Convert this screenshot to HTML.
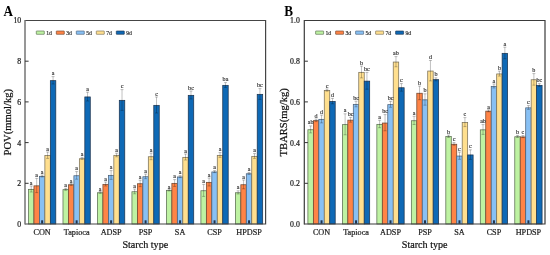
<!DOCTYPE html>
<html><head><meta charset="utf-8">
<style>
html,body{margin:0;padding:0;background:#fff;width:550px;height:255px;overflow:hidden}
svg{display:block;filter:blur(0.4px)}
text{font-family:"Liberation Serif",serif;stroke-width:0.22px}
.tick{font-size:7.8px;fill:#222;stroke:#222;text-anchor:end}
.xl{font-size:8.2px;fill:#222;stroke:#222;text-anchor:middle}
.xt{font-size:10.5px;fill:#111;stroke:#111;text-anchor:middle}
.yt{font-size:10.6px;fill:#111;stroke:#111;text-anchor:middle}
.leg{font-size:7px;fill:#333;stroke:#333}
.let{font-size:6.8px;fill:#333;stroke:#333;stroke-width:0.16px;text-anchor:middle}
.pl{font-size:13.8px;font-weight:bold;fill:#000}
</style></head><body>
<svg width="550" height="255" viewBox="0 0 550 255">
<rect width="550" height="255" fill="#fff"/>
<rect x="28.50" y="189.35" width="5.46" height="34.65" fill="#bef2a2" stroke="#5a6e50" stroke-width="0.75"/>
<rect x="33.96" y="185.85" width="5.46" height="38.15" fill="#ff8446" stroke="#704630" stroke-width="0.75"/>
<rect x="39.42" y="176.35" width="5.46" height="47.65" fill="#88c0f4" stroke="#4a6078" stroke-width="0.75"/>
<rect x="41.15" y="220.3" width="2" height="3.4" fill="#22344c"/>
<rect x="44.88" y="155.55" width="5.46" height="68.45" fill="#ffdf8e" stroke="#7a7058" stroke-width="0.75"/>
<rect x="50.34" y="80.65" width="5.46" height="143.35" fill="#0e69b6" stroke="#1d3550" stroke-width="0.75"/>
<rect x="62.98" y="189.65" width="5.46" height="34.35" fill="#bef2a2" stroke="#5a6e50" stroke-width="0.75"/>
<rect x="68.44" y="184.75" width="5.46" height="39.25" fill="#ff8446" stroke="#704630" stroke-width="0.75"/>
<rect x="73.90" y="175.75" width="5.46" height="48.25" fill="#88c0f4" stroke="#4a6078" stroke-width="0.75"/>
<rect x="75.63" y="220.3" width="2" height="3.4" fill="#22344c"/>
<rect x="79.36" y="158.75" width="5.46" height="65.25" fill="#ffdf8e" stroke="#7a7058" stroke-width="0.75"/>
<rect x="84.82" y="96.95" width="5.46" height="127.05" fill="#0e69b6" stroke="#1d3550" stroke-width="0.75"/>
<rect x="97.46" y="192.75" width="5.46" height="31.25" fill="#bef2a2" stroke="#5a6e50" stroke-width="0.75"/>
<rect x="102.92" y="184.35" width="5.46" height="39.65" fill="#ff8446" stroke="#704630" stroke-width="0.75"/>
<rect x="108.38" y="175.35" width="5.46" height="48.65" fill="#88c0f4" stroke="#4a6078" stroke-width="0.75"/>
<rect x="110.11" y="220.3" width="2" height="3.4" fill="#22344c"/>
<rect x="113.84" y="155.35" width="5.46" height="68.65" fill="#ffdf8e" stroke="#7a7058" stroke-width="0.75"/>
<rect x="119.30" y="100.35" width="5.46" height="123.65" fill="#0e69b6" stroke="#1d3550" stroke-width="0.75"/>
<rect x="131.94" y="191.75" width="5.46" height="32.25" fill="#bef2a2" stroke="#5a6e50" stroke-width="0.75"/>
<rect x="137.40" y="183.75" width="5.46" height="40.25" fill="#ff8446" stroke="#704630" stroke-width="0.75"/>
<rect x="142.86" y="176.75" width="5.46" height="47.25" fill="#88c0f4" stroke="#4a6078" stroke-width="0.75"/>
<rect x="144.59" y="220.3" width="2" height="3.4" fill="#22344c"/>
<rect x="148.32" y="156.75" width="5.46" height="67.25" fill="#ffdf8e" stroke="#7a7058" stroke-width="0.75"/>
<rect x="153.78" y="105.35" width="5.46" height="118.65" fill="#0e69b6" stroke="#1d3550" stroke-width="0.75"/>
<rect x="166.42" y="190.35" width="5.46" height="33.65" fill="#bef2a2" stroke="#5a6e50" stroke-width="0.75"/>
<rect x="171.88" y="183.35" width="5.46" height="40.65" fill="#ff8446" stroke="#704630" stroke-width="0.75"/>
<rect x="177.34" y="176.95" width="5.46" height="47.05" fill="#88c0f4" stroke="#4a6078" stroke-width="0.75"/>
<rect x="179.07" y="220.3" width="2" height="3.4" fill="#22344c"/>
<rect x="182.80" y="157.35" width="5.46" height="66.65" fill="#ffdf8e" stroke="#7a7058" stroke-width="0.75"/>
<rect x="188.26" y="95.35" width="5.46" height="128.65" fill="#0e69b6" stroke="#1d3550" stroke-width="0.75"/>
<rect x="200.90" y="190.75" width="5.46" height="33.25" fill="#bef2a2" stroke="#5a6e50" stroke-width="0.75"/>
<rect x="206.36" y="182.35" width="5.46" height="41.65" fill="#ff8446" stroke="#704630" stroke-width="0.75"/>
<rect x="211.82" y="171.95" width="5.46" height="52.05" fill="#88c0f4" stroke="#4a6078" stroke-width="0.75"/>
<rect x="213.55" y="220.3" width="2" height="3.4" fill="#22344c"/>
<rect x="217.28" y="155.35" width="5.46" height="68.65" fill="#ffdf8e" stroke="#7a7058" stroke-width="0.75"/>
<rect x="222.74" y="85.35" width="5.46" height="138.65" fill="#0e69b6" stroke="#1d3550" stroke-width="0.75"/>
<rect x="235.38" y="192.75" width="5.46" height="31.25" fill="#bef2a2" stroke="#5a6e50" stroke-width="0.75"/>
<rect x="240.84" y="184.75" width="5.46" height="39.25" fill="#ff8446" stroke="#704630" stroke-width="0.75"/>
<rect x="246.30" y="173.75" width="5.46" height="50.25" fill="#88c0f4" stroke="#4a6078" stroke-width="0.75"/>
<rect x="248.03" y="220.3" width="2" height="3.4" fill="#22344c"/>
<rect x="251.76" y="156.35" width="5.46" height="67.65" fill="#ffdf8e" stroke="#7a7058" stroke-width="0.75"/>
<rect x="257.22" y="94.35" width="5.46" height="129.65" fill="#0e69b6" stroke="#1d3550" stroke-width="0.75"/>
<path d="M31.23 186.00V192.00M29.73 186.00H32.73M29.73 192.00H32.73" stroke="#000" stroke-opacity="0.42" stroke-width="0.6" fill="none"/>
<text transform="translate(31.23 184.50) scale(0.9 1)" class="let">a</text>
<path d="M36.69 178.40V192.60M35.19 178.40H38.19M35.19 192.60H38.19" stroke="#000" stroke-opacity="0.42" stroke-width="0.6" fill="none"/>
<text transform="translate(36.69 176.90) scale(0.9 1)" class="let">a</text>
<path d="M42.15 175.00V177.00M40.65 175.00H43.65M40.65 177.00H43.65" stroke="#000" stroke-opacity="0.42" stroke-width="0.6" fill="none"/>
<text transform="translate(42.15 173.50) scale(0.9 1)" class="let">a</text>
<path d="M47.61 152.00V158.40M46.11 152.00H49.11M46.11 158.40H49.11" stroke="#000" stroke-opacity="0.42" stroke-width="0.6" fill="none"/>
<text transform="translate(47.61 150.50) scale(0.9 1)" class="let">a</text>
<path d="M53.07 76.60V84.00M51.57 76.60H54.57M51.57 84.00H54.57" stroke="#000" stroke-opacity="0.42" stroke-width="0.6" fill="none"/>
<text transform="translate(53.07 75.10) scale(0.9 1)" class="let">a</text>
<path d="M65.71 188.30V190.30M64.21 188.30H67.21M64.21 190.30H67.21" stroke="#000" stroke-opacity="0.42" stroke-width="0.6" fill="none"/>
<text transform="translate(65.71 187.10) scale(0.9 1)" class="let">a</text>
<path d="M71.17 183.40V185.40M69.67 183.40H72.67M69.67 185.40H72.67" stroke="#000" stroke-opacity="0.42" stroke-width="0.6" fill="none"/>
<text transform="translate(71.17 183.10) scale(0.9 1)" class="let">a</text>
<path d="M76.63 171.60V179.20M75.13 171.60H78.13M75.13 179.20H78.13" stroke="#000" stroke-opacity="0.42" stroke-width="0.6" fill="none"/>
<text transform="translate(76.63 170.10) scale(0.9 1)" class="let">a</text>
<path d="M82.09 157.40V159.40M80.59 157.40H83.59M80.59 159.40H83.59" stroke="#000" stroke-opacity="0.42" stroke-width="0.6" fill="none"/>
<text transform="translate(82.09 156.10) scale(0.9 1)" class="let">a</text>
<path d="M87.55 92.20V101.00M86.05 92.20H89.05M86.05 101.00H89.05" stroke="#000" stroke-opacity="0.42" stroke-width="0.6" fill="none"/>
<text transform="translate(87.55 90.70) scale(0.9 1)" class="let">a</text>
<path d="M100.19 191.40V193.40M98.69 191.40H101.69M98.69 193.40H101.69" stroke="#000" stroke-opacity="0.42" stroke-width="0.6" fill="none"/>
<text transform="translate(100.19 190.50) scale(0.9 1)" class="let">a</text>
<path d="M105.65 182.00V186.00M104.15 182.00H107.15M104.15 186.00H107.15" stroke="#000" stroke-opacity="0.42" stroke-width="0.6" fill="none"/>
<text transform="translate(105.65 180.50) scale(0.9 1)" class="let">a</text>
<path d="M111.11 170.60V179.40M109.61 170.60H112.61M109.61 179.40H112.61" stroke="#000" stroke-opacity="0.42" stroke-width="0.6" fill="none"/>
<text transform="translate(111.11 169.10) scale(0.9 1)" class="let">a</text>
<path d="M116.57 153.20V156.80M115.07 153.20H118.07M115.07 156.80H118.07" stroke="#000" stroke-opacity="0.42" stroke-width="0.6" fill="none"/>
<text transform="translate(116.57 151.70) scale(0.9 1)" class="let">a</text>
<path d="M122.03 89.60V110.40M120.53 89.60H123.53M120.53 110.40H123.53" stroke="#000" stroke-opacity="0.42" stroke-width="0.6" fill="none"/>
<text transform="translate(122.03 88.10) scale(0.9 1)" class="let">c</text>
<path d="M134.67 189.00V193.80M133.17 189.00H136.17M133.17 193.80H136.17" stroke="#000" stroke-opacity="0.42" stroke-width="0.6" fill="none"/>
<text transform="translate(134.67 187.50) scale(0.9 1)" class="let">a</text>
<path d="M140.13 180.20V186.60M138.63 180.20H141.63M138.63 186.60H141.63" stroke="#000" stroke-opacity="0.42" stroke-width="0.6" fill="none"/>
<text transform="translate(140.13 178.70) scale(0.9 1)" class="let">a</text>
<path d="M145.59 174.10V178.70M144.09 174.10H147.09M144.09 178.70H147.09" stroke="#000" stroke-opacity="0.42" stroke-width="0.6" fill="none"/>
<text transform="translate(145.59 172.60) scale(0.9 1)" class="let">a</text>
<path d="M151.05 153.10V159.70M149.55 153.10H152.55M149.55 159.70H152.55" stroke="#000" stroke-opacity="0.42" stroke-width="0.6" fill="none"/>
<text transform="translate(151.05 151.60) scale(0.9 1)" class="let">a</text>
<path d="M156.51 97.00V113.00M155.01 97.00H158.01M155.01 113.00H158.01" stroke="#000" stroke-opacity="0.42" stroke-width="0.6" fill="none"/>
<text transform="translate(156.51 95.50) scale(0.9 1)" class="let">c</text>
<path d="M169.15 189.00V191.00M167.65 189.00H170.65M167.65 191.00H170.65" stroke="#000" stroke-opacity="0.42" stroke-width="0.6" fill="none"/>
<text transform="translate(169.15 188.50) scale(0.9 1)" class="let">a</text>
<path d="M174.61 179.60V186.40M173.11 179.60H176.11M173.11 186.40H176.11" stroke="#000" stroke-opacity="0.42" stroke-width="0.6" fill="none"/>
<text transform="translate(174.61 178.10) scale(0.9 1)" class="let">a</text>
<path d="M180.07 175.60V177.60M178.57 175.60H181.57M178.57 177.60H181.57" stroke="#000" stroke-opacity="0.42" stroke-width="0.6" fill="none"/>
<text transform="translate(180.07 174.10) scale(0.9 1)" class="let">a</text>
<path d="M185.53 154.00V160.00M184.03 154.00H187.03M184.03 160.00H187.03" stroke="#000" stroke-opacity="0.42" stroke-width="0.6" fill="none"/>
<text transform="translate(185.53 152.50) scale(0.9 1)" class="let">a</text>
<path d="M190.99 91.00V99.00M189.49 91.00H192.49M189.49 99.00H192.49" stroke="#000" stroke-opacity="0.42" stroke-width="0.6" fill="none"/>
<text transform="translate(190.99 89.50) scale(0.9 1)" class="let">bc</text>
<path d="M203.63 184.40V196.40M202.13 184.40H205.13M202.13 196.40H205.13" stroke="#000" stroke-opacity="0.42" stroke-width="0.6" fill="none"/>
<text transform="translate(203.63 182.90) scale(0.9 1)" class="let">a</text>
<path d="M209.09 178.00V186.00M207.59 178.00H210.59M207.59 186.00H210.59" stroke="#000" stroke-opacity="0.42" stroke-width="0.6" fill="none"/>
<text transform="translate(209.09 176.50) scale(0.9 1)" class="let">a</text>
<path d="M214.55 170.60V172.60M213.05 170.60H216.05M213.05 172.60H216.05" stroke="#000" stroke-opacity="0.42" stroke-width="0.6" fill="none"/>
<text transform="translate(214.55 169.10) scale(0.9 1)" class="let">a</text>
<path d="M220.01 152.60V157.40M218.51 152.60H221.51M218.51 157.40H221.51" stroke="#000" stroke-opacity="0.42" stroke-width="0.6" fill="none"/>
<text transform="translate(220.01 151.10) scale(0.9 1)" class="let">a</text>
<path d="M225.47 82.60V87.40M223.97 82.60H226.97M223.97 87.40H226.97" stroke="#000" stroke-opacity="0.42" stroke-width="0.6" fill="none"/>
<text transform="translate(225.47 81.10) scale(0.9 1)" class="let">ba</text>
<path d="M238.11 190.80V194.00M236.61 190.80H239.61M236.61 194.00H239.61" stroke="#000" stroke-opacity="0.42" stroke-width="0.6" fill="none"/>
<text transform="translate(238.11 189.30) scale(0.9 1)" class="let">a</text>
<path d="M243.57 180.00V188.80M242.07 180.00H245.07M242.07 188.80H245.07" stroke="#000" stroke-opacity="0.42" stroke-width="0.6" fill="none"/>
<text transform="translate(243.57 178.50) scale(0.9 1)" class="let">a</text>
<path d="M249.03 172.40V174.40M247.53 172.40H250.53M247.53 174.40H250.53" stroke="#000" stroke-opacity="0.42" stroke-width="0.6" fill="none"/>
<text transform="translate(249.03 171.10) scale(0.9 1)" class="let">a</text>
<path d="M254.49 153.60V158.40M252.99 153.60H255.99M252.99 158.40H255.99" stroke="#000" stroke-opacity="0.42" stroke-width="0.6" fill="none"/>
<text transform="translate(254.49 152.10) scale(0.9 1)" class="let">a</text>
<path d="M259.95 88.60V99.40M258.45 88.60H261.45M258.45 99.40H261.45" stroke="#000" stroke-opacity="0.42" stroke-width="0.6" fill="none"/>
<text transform="translate(259.95 87.10) scale(0.9 1)" class="let">bc</text>
<path d="M25.0 20.5H265.6V224.0H25.0" fill="none" stroke="#454545" stroke-width="1.2"/>
<path d="M25.0 19.9V224.6" fill="none" stroke="#707070" stroke-width="1.45"/>
<text x="21.2" y="227.00" class="tick">0</text>
<path d="M25.0 183.30H28.6" stroke="#333" stroke-width="1.0"/>
<text x="21.2" y="186.30" class="tick">2</text>
<path d="M25.0 142.60H28.6" stroke="#333" stroke-width="1.0"/>
<text x="21.2" y="145.60" class="tick">4</text>
<path d="M25.0 101.90H28.6" stroke="#333" stroke-width="1.0"/>
<text x="21.2" y="104.90" class="tick">6</text>
<path d="M25.0 61.20H28.6" stroke="#333" stroke-width="1.0"/>
<text x="21.2" y="64.20" class="tick">8</text>
<text x="21.2" y="22.90" class="tick">10</text>
<text x="42.15" y="234.60" class="xl">CON</text>
<text x="76.63" y="234.60" class="xl">Tapioca</text>
<text x="111.11" y="234.60" class="xl">ADSP</text>
<text x="145.59" y="234.60" class="xl">PSP</text>
<text x="180.07" y="234.60" class="xl">SA</text>
<text x="214.55" y="234.60" class="xl">CSP</text>
<text x="249.03" y="234.60" class="xl">HPDSP</text>
<text x="145.30" y="248.00" class="xt" textLength="45.8" lengthAdjust="spacingAndGlyphs">Starch type</text>
<text transform="translate(11.00 122.25) rotate(-90)" class="yt">POV(mmol/kg)</text>
<rect x="36.30" y="31.0" width="8.0" height="3.3" rx="0.3" fill="#bef2a2" stroke="#5a6e50" stroke-width="0.65"/>
<text transform="translate(46.20 34.9) scale(0.82 1)" class="leg">1d</text>
<rect x="56.30" y="31.0" width="8.0" height="3.3" rx="0.3" fill="#ff8446" stroke="#704630" stroke-width="0.65"/>
<text transform="translate(66.20 34.9) scale(0.82 1)" class="leg">3d</text>
<rect x="76.30" y="31.0" width="8.0" height="3.3" rx="0.3" fill="#88c0f4" stroke="#4a6078" stroke-width="0.65"/>
<text transform="translate(86.20 34.9) scale(0.82 1)" class="leg">5d</text>
<rect x="96.30" y="31.0" width="8.0" height="3.3" rx="0.3" fill="#ffdf8e" stroke="#7a7058" stroke-width="0.65"/>
<text transform="translate(106.20 34.9) scale(0.82 1)" class="leg">7d</text>
<rect x="116.30" y="31.0" width="8.0" height="3.3" rx="0.3" fill="#0e69b6" stroke="#1d3550" stroke-width="0.65"/>
<text transform="translate(126.20 34.9) scale(0.82 1)" class="leg">9d</text>
<text transform="translate(3.6 15.6) scale(0.95 1)" class="pl">A</text>
<rect x="307.90" y="129.75" width="5.46" height="94.25" fill="#bef2a2" stroke="#5a6e50" stroke-width="0.75"/>
<rect x="313.36" y="120.65" width="5.46" height="103.35" fill="#ff8446" stroke="#704630" stroke-width="0.75"/>
<rect x="318.82" y="119.35" width="5.46" height="104.65" fill="#88c0f4" stroke="#4a6078" stroke-width="0.75"/>
<rect x="320.55" y="220.3" width="2" height="3.4" fill="#22344c"/>
<rect x="324.28" y="90.45" width="5.46" height="133.55" fill="#ffdf8e" stroke="#7a7058" stroke-width="0.75"/>
<rect x="329.74" y="101.45" width="5.46" height="122.55" fill="#0e69b6" stroke="#1d3550" stroke-width="0.75"/>
<rect x="342.38" y="124.65" width="5.46" height="99.35" fill="#bef2a2" stroke="#5a6e50" stroke-width="0.75"/>
<rect x="347.84" y="120.15" width="5.46" height="103.85" fill="#ff8446" stroke="#704630" stroke-width="0.75"/>
<rect x="353.30" y="104.35" width="5.46" height="119.65" fill="#88c0f4" stroke="#4a6078" stroke-width="0.75"/>
<rect x="355.03" y="220.3" width="2" height="3.4" fill="#22344c"/>
<rect x="358.76" y="72.35" width="5.46" height="151.65" fill="#ffdf8e" stroke="#7a7058" stroke-width="0.75"/>
<rect x="364.22" y="81.15" width="5.46" height="142.85" fill="#0e69b6" stroke="#1d3550" stroke-width="0.75"/>
<rect x="376.86" y="124.35" width="5.46" height="99.65" fill="#bef2a2" stroke="#5a6e50" stroke-width="0.75"/>
<rect x="382.32" y="123.05" width="5.46" height="100.95" fill="#ff8446" stroke="#704630" stroke-width="0.75"/>
<rect x="387.78" y="104.65" width="5.46" height="119.35" fill="#88c0f4" stroke="#4a6078" stroke-width="0.75"/>
<rect x="389.51" y="220.3" width="2" height="3.4" fill="#22344c"/>
<rect x="393.24" y="62.05" width="5.46" height="161.95" fill="#ffdf8e" stroke="#7a7058" stroke-width="0.75"/>
<rect x="398.70" y="87.75" width="5.46" height="136.25" fill="#0e69b6" stroke="#1d3550" stroke-width="0.75"/>
<rect x="411.34" y="120.75" width="5.46" height="103.25" fill="#bef2a2" stroke="#5a6e50" stroke-width="0.75"/>
<rect x="416.80" y="93.25" width="5.46" height="130.75" fill="#ff8446" stroke="#704630" stroke-width="0.75"/>
<rect x="422.26" y="99.85" width="5.46" height="124.15" fill="#88c0f4" stroke="#4a6078" stroke-width="0.75"/>
<rect x="423.99" y="220.3" width="2" height="3.4" fill="#22344c"/>
<rect x="427.72" y="71.05" width="5.46" height="152.95" fill="#ffdf8e" stroke="#7a7058" stroke-width="0.75"/>
<rect x="433.18" y="79.65" width="5.46" height="144.35" fill="#0e69b6" stroke="#1d3550" stroke-width="0.75"/>
<rect x="445.82" y="136.55" width="5.46" height="87.45" fill="#bef2a2" stroke="#5a6e50" stroke-width="0.75"/>
<rect x="451.28" y="144.25" width="5.46" height="79.75" fill="#ff8446" stroke="#704630" stroke-width="0.75"/>
<rect x="456.74" y="156.05" width="5.46" height="67.95" fill="#88c0f4" stroke="#4a6078" stroke-width="0.75"/>
<rect x="458.47" y="220.3" width="2" height="3.4" fill="#22344c"/>
<rect x="462.20" y="122.45" width="5.46" height="101.55" fill="#ffdf8e" stroke="#7a7058" stroke-width="0.75"/>
<rect x="467.66" y="154.95" width="5.46" height="69.05" fill="#0e69b6" stroke="#1d3550" stroke-width="0.75"/>
<rect x="480.30" y="129.85" width="5.46" height="94.15" fill="#bef2a2" stroke="#5a6e50" stroke-width="0.75"/>
<rect x="485.76" y="111.15" width="5.46" height="112.85" fill="#ff8446" stroke="#704630" stroke-width="0.75"/>
<rect x="491.22" y="86.35" width="5.46" height="137.65" fill="#88c0f4" stroke="#4a6078" stroke-width="0.75"/>
<rect x="492.95" y="220.3" width="2" height="3.4" fill="#22344c"/>
<rect x="496.68" y="73.95" width="5.46" height="150.05" fill="#ffdf8e" stroke="#7a7058" stroke-width="0.75"/>
<rect x="502.14" y="53.35" width="5.46" height="170.65" fill="#0e69b6" stroke="#1d3550" stroke-width="0.75"/>
<rect x="514.78" y="136.75" width="5.46" height="87.25" fill="#bef2a2" stroke="#5a6e50" stroke-width="0.75"/>
<rect x="520.24" y="136.95" width="5.46" height="87.05" fill="#ff8446" stroke="#704630" stroke-width="0.75"/>
<rect x="525.70" y="107.85" width="5.46" height="116.15" fill="#88c0f4" stroke="#4a6078" stroke-width="0.75"/>
<rect x="527.43" y="220.3" width="2" height="3.4" fill="#22344c"/>
<rect x="531.16" y="79.75" width="5.46" height="144.25" fill="#ffdf8e" stroke="#7a7058" stroke-width="0.75"/>
<rect x="536.62" y="85.35" width="5.46" height="138.65" fill="#0e69b6" stroke="#1d3550" stroke-width="0.75"/>
<path d="M310.63 125.90V132.90M309.13 125.90H312.13M309.13 132.90H312.13" stroke="#000" stroke-opacity="0.42" stroke-width="0.6" fill="none"/>
<text transform="translate(310.63 124.40) scale(0.9 1)" class="let">ab</text>
<path d="M316.09 119.00V121.60M314.59 119.00H317.59M314.59 121.60H317.59" stroke="#000" stroke-opacity="0.42" stroke-width="0.6" fill="none"/>
<text transform="translate(316.09 117.50) scale(0.9 1)" class="let">d</text>
<path d="M321.55 115.10V122.90M320.05 115.10H323.05M320.05 122.90H323.05" stroke="#000" stroke-opacity="0.42" stroke-width="0.6" fill="none"/>
<text transform="translate(321.55 113.60) scale(0.9 1)" class="let">d</text>
<path d="M327.01 89.00V91.20M325.51 89.00H328.51M325.51 91.20H328.51" stroke="#000" stroke-opacity="0.42" stroke-width="0.6" fill="none"/>
<text transform="translate(327.01 87.50) scale(0.9 1)" class="let">c</text>
<path d="M332.47 98.40V103.80M330.97 98.40H333.97M330.97 103.80H333.97" stroke="#000" stroke-opacity="0.42" stroke-width="0.6" fill="none"/>
<text transform="translate(332.47 96.90) scale(0.9 1)" class="let">d</text>
<path d="M345.11 113.80V134.80M343.61 113.80H346.61M343.61 134.80H346.61" stroke="#000" stroke-opacity="0.42" stroke-width="0.6" fill="none"/>
<text transform="translate(345.11 112.30) scale(0.9 1)" class="let">a</text>
<path d="M350.57 117.40V122.20M349.07 117.40H352.07M349.07 122.20H352.07" stroke="#000" stroke-opacity="0.42" stroke-width="0.6" fill="none"/>
<text transform="translate(350.57 115.90) scale(0.9 1)" class="let">bc</text>
<path d="M356.03 101.20V106.80M354.53 101.20H357.53M354.53 106.80H357.53" stroke="#000" stroke-opacity="0.42" stroke-width="0.6" fill="none"/>
<text transform="translate(356.03 99.70) scale(0.9 1)" class="let">bc</text>
<path d="M361.49 66.10V77.90M359.99 66.10H362.99M359.99 77.90H362.99" stroke="#000" stroke-opacity="0.42" stroke-width="0.6" fill="none"/>
<text transform="translate(361.49 64.60) scale(0.9 1)" class="let">b</text>
<path d="M366.95 72.40V89.20M365.45 72.40H368.45M365.45 89.20H368.45" stroke="#000" stroke-opacity="0.42" stroke-width="0.6" fill="none"/>
<text transform="translate(366.95 70.90) scale(0.9 1)" class="let">bc</text>
<path d="M379.59 120.30V127.70M378.09 120.30H381.09M378.09 127.70H381.09" stroke="#000" stroke-opacity="0.42" stroke-width="0.6" fill="none"/>
<text transform="translate(379.59 118.80) scale(0.9 1)" class="let">a</text>
<path d="M385.05 114.60V130.80M383.55 114.60H386.55M383.55 130.80H386.55" stroke="#000" stroke-opacity="0.42" stroke-width="0.6" fill="none"/>
<text transform="translate(385.05 113.10) scale(0.9 1)" class="let">bc</text>
<path d="M390.51 101.30V107.30M389.01 101.30H392.01M389.01 107.30H392.01" stroke="#000" stroke-opacity="0.42" stroke-width="0.6" fill="none"/>
<text transform="translate(390.51 99.80) scale(0.9 1)" class="let">bc</text>
<path d="M395.97 56.60V66.80M394.47 56.60H397.47M394.47 66.80H397.47" stroke="#000" stroke-opacity="0.42" stroke-width="0.6" fill="none"/>
<text transform="translate(395.97 55.10) scale(0.9 1)" class="let">ab</text>
<path d="M401.43 83.60V91.20M399.93 83.60H402.93M399.93 91.20H402.93" stroke="#000" stroke-opacity="0.42" stroke-width="0.6" fill="none"/>
<text transform="translate(401.43 82.10) scale(0.9 1)" class="let">c</text>
<path d="M414.07 116.30V124.50M412.57 116.30H415.57M412.57 124.50H415.57" stroke="#000" stroke-opacity="0.42" stroke-width="0.6" fill="none"/>
<text transform="translate(414.07 114.80) scale(0.9 1)" class="let">a</text>
<path d="M419.53 86.10V99.70M418.03 86.10H421.03M418.03 99.70H421.03" stroke="#000" stroke-opacity="0.42" stroke-width="0.6" fill="none"/>
<text transform="translate(419.53 84.60) scale(0.9 1)" class="let">b</text>
<path d="M424.99 93.80V105.20M423.49 93.80H426.49M423.49 105.20H426.49" stroke="#000" stroke-opacity="0.42" stroke-width="0.6" fill="none"/>
<text transform="translate(424.99 92.30) scale(0.9 1)" class="let">b</text>
<path d="M430.45 60.50V80.90M428.95 60.50H431.95M428.95 80.90H431.95" stroke="#000" stroke-opacity="0.42" stroke-width="0.6" fill="none"/>
<text transform="translate(430.45 59.00) scale(0.9 1)" class="let">d</text>
<path d="M435.91 77.80V80.80M434.41 77.80H437.41M434.41 80.80H437.41" stroke="#000" stroke-opacity="0.42" stroke-width="0.6" fill="none"/>
<text transform="translate(435.91 76.30) scale(0.9 1)" class="let">b</text>
<path d="M448.55 135.00V137.40M447.05 135.00H450.05M447.05 137.40H450.05" stroke="#000" stroke-opacity="0.42" stroke-width="0.6" fill="none"/>
<text transform="translate(448.55 133.50) scale(0.9 1)" class="let">b</text>
<path d="M454.01 142.60V145.20M452.51 142.60H455.51M452.51 145.20H455.51" stroke="#000" stroke-opacity="0.42" stroke-width="0.6" fill="none"/>
<text transform="translate(454.01 141.10) scale(0.9 1)" class="let">c</text>
<path d="M459.47 152.10V159.30M457.97 152.10H460.97M457.97 159.30H460.97" stroke="#000" stroke-opacity="0.42" stroke-width="0.6" fill="none"/>
<text transform="translate(459.47 150.60) scale(0.9 1)" class="let">c</text>
<path d="M464.93 117.60V126.60M463.43 117.60H466.43M463.43 126.60H466.43" stroke="#000" stroke-opacity="0.42" stroke-width="0.6" fill="none"/>
<text transform="translate(464.93 116.10) scale(0.9 1)" class="let">c</text>
<path d="M470.39 149.80V159.40M468.89 149.80H471.89M468.89 159.40H471.89" stroke="#000" stroke-opacity="0.42" stroke-width="0.6" fill="none"/>
<text transform="translate(470.39 148.30) scale(0.9 1)" class="let">c</text>
<path d="M483.03 124.60V134.40M481.53 124.60H484.53M481.53 134.40H484.53" stroke="#000" stroke-opacity="0.42" stroke-width="0.6" fill="none"/>
<text transform="translate(483.03 123.10) scale(0.9 1)" class="let">ab</text>
<path d="M488.49 109.80V111.80M486.99 109.80H489.99M486.99 111.80H489.99" stroke="#000" stroke-opacity="0.42" stroke-width="0.6" fill="none"/>
<text transform="translate(488.49 108.60) scale(0.9 1)" class="let">a</text>
<path d="M493.95 84.00V88.00M492.45 84.00H495.45M492.45 88.00H495.45" stroke="#000" stroke-opacity="0.42" stroke-width="0.6" fill="none"/>
<text transform="translate(493.95 82.50) scale(0.9 1)" class="let">a</text>
<path d="M499.41 71.10V76.10M497.91 71.10H500.91M497.91 76.10H500.91" stroke="#000" stroke-opacity="0.42" stroke-width="0.6" fill="none"/>
<text transform="translate(499.41 69.60) scale(0.9 1)" class="let">b</text>
<path d="M504.87 47.20V58.80M503.37 47.20H506.37M503.37 58.80H506.37" stroke="#000" stroke-opacity="0.42" stroke-width="0.6" fill="none"/>
<text transform="translate(504.87 45.70) scale(0.9 1)" class="let">a</text>
<path d="M517.51 135.40V137.40M516.01 135.40H519.01M516.01 137.40H519.01" stroke="#000" stroke-opacity="0.42" stroke-width="0.6" fill="none"/>
<text transform="translate(517.51 134.10) scale(0.9 1)" class="let">b</text>
<path d="M522.97 135.60V137.60M521.47 135.60H524.47M521.47 137.60H524.47" stroke="#000" stroke-opacity="0.42" stroke-width="0.6" fill="none"/>
<text transform="translate(522.97 134.10) scale(0.9 1)" class="let">c</text>
<path d="M528.43 105.60V109.40M526.93 105.60H529.93M526.93 109.40H529.93" stroke="#000" stroke-opacity="0.42" stroke-width="0.6" fill="none"/>
<text transform="translate(528.43 104.10) scale(0.9 1)" class="let">c</text>
<path d="M533.89 73.60V85.20M532.39 73.60H535.39M532.39 85.20H535.39" stroke="#000" stroke-opacity="0.42" stroke-width="0.6" fill="none"/>
<text transform="translate(533.89 72.10) scale(0.9 1)" class="let">b</text>
<path d="M539.35 83.60V86.40M537.85 83.60H540.85M537.85 86.40H540.85" stroke="#000" stroke-opacity="0.42" stroke-width="0.6" fill="none"/>
<text transform="translate(539.35 82.10) scale(0.9 1)" class="let">bc</text>
<path d="M304.3 20.5H545.0V224.0H304.3" fill="none" stroke="#3a3a3a" stroke-width="1.2"/>
<path d="M304.3 19.9V224.6" fill="none" stroke="#3a3a3a" stroke-width="1.2"/>
<text x="299.8" y="227.00" class="tick">0.0</text>
<path d="M304.3 183.30H307.90000000000003" stroke="#333" stroke-width="1.0"/>
<text x="299.8" y="186.30" class="tick">0.2</text>
<path d="M304.3 142.60H307.90000000000003" stroke="#333" stroke-width="1.0"/>
<text x="299.8" y="145.60" class="tick">0.4</text>
<path d="M304.3 101.90H307.90000000000003" stroke="#333" stroke-width="1.0"/>
<text x="299.8" y="104.90" class="tick">0.6</text>
<path d="M304.3 61.20H307.90000000000003" stroke="#333" stroke-width="1.0"/>
<text x="299.8" y="64.20" class="tick">0.8</text>
<text x="299.8" y="22.90" class="tick">1.0</text>
<text x="321.55" y="234.60" class="xl">CON</text>
<text x="356.03" y="234.60" class="xl">Tapioca</text>
<text x="390.51" y="234.60" class="xl">ADSP</text>
<text x="424.99" y="234.60" class="xl">PSP</text>
<text x="459.47" y="234.60" class="xl">SA</text>
<text x="493.95" y="234.60" class="xl">CSP</text>
<text x="528.43" y="234.60" class="xl">HPDSP</text>
<text x="424.65" y="248.00" class="xt" textLength="45.8" lengthAdjust="spacingAndGlyphs">Starch type</text>
<text transform="translate(287.30 122.25) rotate(-90)" class="yt">TBARS(mg/kg)</text>
<rect x="315.60" y="31.0" width="8.0" height="3.3" rx="0.3" fill="#bef2a2" stroke="#5a6e50" stroke-width="0.65"/>
<text transform="translate(325.50 34.9) scale(0.82 1)" class="leg">1d</text>
<rect x="335.60" y="31.0" width="8.0" height="3.3" rx="0.3" fill="#ff8446" stroke="#704630" stroke-width="0.65"/>
<text transform="translate(345.50 34.9) scale(0.82 1)" class="leg">3d</text>
<rect x="355.60" y="31.0" width="8.0" height="3.3" rx="0.3" fill="#88c0f4" stroke="#4a6078" stroke-width="0.65"/>
<text transform="translate(365.50 34.9) scale(0.82 1)" class="leg">5d</text>
<rect x="375.60" y="31.0" width="8.0" height="3.3" rx="0.3" fill="#ffdf8e" stroke="#7a7058" stroke-width="0.65"/>
<text transform="translate(385.50 34.9) scale(0.82 1)" class="leg">7d</text>
<rect x="395.60" y="31.0" width="8.0" height="3.3" rx="0.3" fill="#0e69b6" stroke="#1d3550" stroke-width="0.65"/>
<text transform="translate(405.50 34.9) scale(0.82 1)" class="leg">9d</text>
<text transform="translate(284.2 15.6) scale(0.95 1)" class="pl">B</text>
</svg>
</body></html>
